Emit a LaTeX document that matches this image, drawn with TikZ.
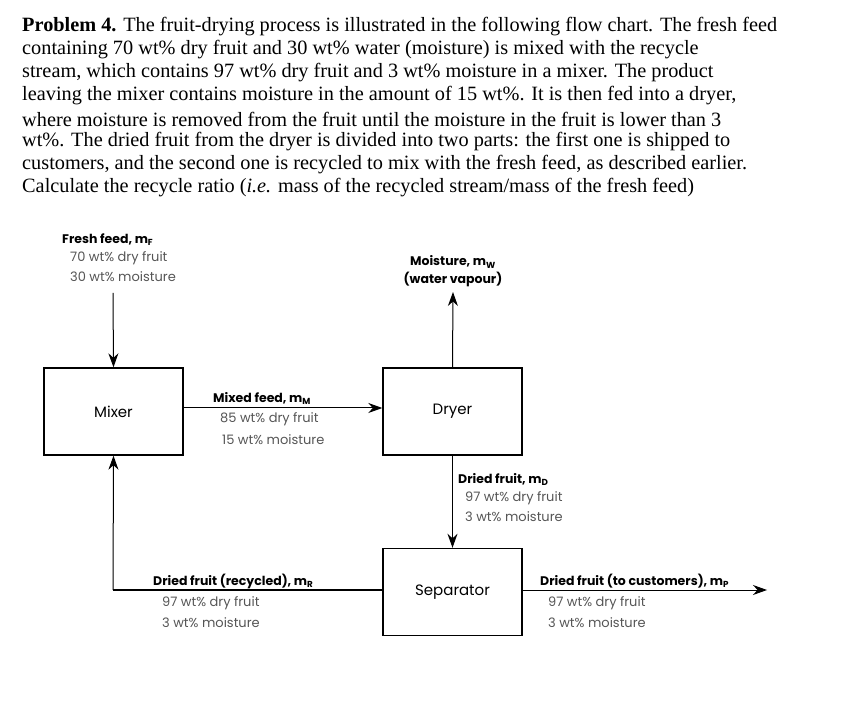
\documentclass[tikz,border=0pt]{standalone}
\usepackage{fontspec}
\setmainfont{Liberation Serif}
\newfontfamily\gsans{Poppins}
\usetikzlibrary{arrows.meta}
\definecolor{gtext}{HTML}{555555}
\begin{document}
\begin{tikzpicture}[x=1pt,y=-1pt,
  box/.style={draw,line width=1.4pt,minimum width=139pt,minimum height=87pt,inner sep=0pt,font=\gsans\fontsize{15}{17}\selectfont},
  flow/.style={line width=1pt,-{Stealth[length=14pt,width=10pt]}},
  lbl/.style={anchor=west,inner sep=0pt,font=\gsans\fontsize{12.5}{14}\selectfont\bfseries},
  sub/.style={anchor=west,inner sep=0pt,text=gtext,font=\gsans\fontsize{13}{15}\selectfont},
  para/.style={anchor=west,inner sep=0pt,font=\fontsize{20.3}{22}\selectfont}]
\useasboundingbox (0,0) rectangle (852,708);
\node[para] (p1) at (22,27) {\textbf{Problem 4.} The fruit-drying process is illustrated in the following flow chart. The fresh feed};
\node[para] (p2) at (22,50) {containing 70 wt\% dry fruit and 30 wt\% water (moisture) is mixed with the recycle};
\node[para] (p3) at (22,73) {stream, which contains 97 wt\% dry fruit and 3 wt\% moisture in a mixer. The product};
\node[para] (p4) at (22,96) {leaving the mixer contains moisture in the amount of 15 wt\%. It is then fed into a dryer,};
\node[para] (p5) at (22,119) {where moisture is removed from the fruit until the moisture in the fruit is lower than 3};
\node[para] (p6) at (22,142) {wt\%. The dried fruit from the dryer is divided into two parts: the first one is shipped to};
\node[para] (p7) at (22,165) {customers, and the second one is recycled to mix with the fresh feed, as described earlier.};
\node[para] (p8) at (22,188) {Calculate the recycle ratio (\textit{i.e.} mass of the recycled stream/mass of the fresh feed)};

\node[box] (mix) at (113.5,411.5) {Mixer};
\node[box] (dry) at (452.5,411.5) {Dryer};
\node[box] (sep) at (452.5,592) {Separator};

\coordinate (ftop) at (113,293);
\coordinate (wtop) at (453,292);
\coordinate (corner) at (113,590);
\coordinate (pend) at (767,590);

\draw[flow] (ftop) -- (mix.north);
\draw[flow] (dry.north) -- (wtop);
\draw[flow] (mix.east |- 0,408) -- (dry.west |- 0,408);
\draw[flow] (dry.south) -- (sep.north);
\draw[line width=1.6pt] (sep.west |- corner) -- (corner);
\draw[flow] (corner) -- (mix.south);
\draw[flow] (sep.east |- pend) -- (pend);

\node[lbl] (l1) at (62,240) {Fresh feed, m\textsubscript{F}};
\node[sub] (l1a) at (70,258) {70 wt\% dry fruit};
\node[sub] (l1b) at (70,277) {30 wt\% moisture};
\node[lbl,anchor=center] (l2) at (453,262) {Moisture, m\textsubscript{W}};
\node[lbl,anchor=center] (l2a) at (453,279) {(water vapour)};
\node[lbl] (l3) at (213,398) {Mixed feed, m\textsubscript{M}};
\node[sub] (l3a) at (220,419) {85 wt\% dry fruit};
\node[sub] (l3b) at (222,440) {15 wt\% moisture};
\node[lbl] (l4) at (458,479) {Dried fruit, m\textsubscript{D}};
\node[sub] (l4a) at (465,498) {97 wt\% dry fruit};
\node[sub] (l4b) at (465,517) {3 wt\% moisture};
\node[lbl] (l5) at (153,581) {Dried fruit (recycled), m\textsubscript{R}};
\node[sub] (l5a) at (162,603) {97 wt\% dry fruit};
\node[sub] (l5b) at (162,623) {3 wt\% moisture};
\node[lbl] (l6) at (540,581) {Dried fruit (to customers), m\textsubscript{P}};
\node[sub] (l6a) at (548,603) {97 wt\% dry fruit};
\node[sub] (l6b) at (548,623) {3 wt\% moisture};
\end{tikzpicture}
\end{document}
